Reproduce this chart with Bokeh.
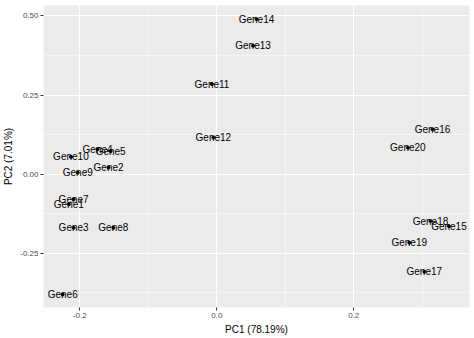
from bokeh.plotting import figure
from bokeh.models import ColumnDataSource, FixedTicker, Range1d
from bokeh.core.properties import value
from bokeh.embed import file_html
from bokeh.resources import INLINE

genes = ["Gene1", "Gene2", "Gene3", "Gene4", "Gene5", "Gene6", "Gene7", "Gene8", "Gene9", "Gene10",
         "Gene11", "Gene12", "Gene13", "Gene14", "Gene15", "Gene16", "Gene17", "Gene18", "Gene19", "Gene20"]
pc1 = [-0.216, -0.158, -0.209, -0.174, -0.155, -0.225, -0.209, -0.151, -0.203, -0.213,
       -0.007, -0.005, 0.053, 0.058, 0.339, 0.315, 0.303, 0.312, 0.281, 0.279]
pc2 = [-0.095, 0.021, -0.169, 0.079, 0.072, -0.380, -0.079, -0.169, 0.005, 0.055,
       0.285, 0.116, 0.406, 0.490, -0.164, 0.142, -0.308, -0.148, -0.216, 0.084]

x_ticks = [-0.2, 0.0, 0.2]
x_labels = ["-0.2", "0.0", "0.2"]
x_minor = [-0.1, 0.1, 0.3]
y_ticks = [-0.25, 0.0, 0.25, 0.5]
y_labels = ["-0.25", "0.00", "0.25", "0.50"]
y_minor = [-0.375, -0.125, 0.125, 0.375]

src = ColumnDataSource(dict(x=pc1, y=pc2, g=genes))

p = figure(width=474, height=338, output_backend="svg", toolbar_location=None,
           x_range=Range1d(-0.253, 0.369), y_range=Range1d(-0.421, 0.533),
           min_border_left=41, min_border_right=5, min_border_top=5, min_border_bottom=31)
p.background_fill_color = "#EBEBEB"
p.border_fill_color = "white"
p.outline_line_color = None

p.xaxis.ticker = FixedTicker(ticks=x_ticks, minor_ticks=x_minor)
p.yaxis.ticker = FixedTicker(ticks=y_ticks, minor_ticks=y_minor)
p.xaxis.major_label_overrides = {t: l for t, l in zip(x_ticks, x_labels)}
p.yaxis.major_label_overrides = {t: l for t, l in zip(y_ticks, y_labels)}

for ax in (p.xaxis, p.yaxis):
    ax.axis_line_color = None
    ax.major_tick_in = 0
    ax.major_tick_out = 3
    ax.major_tick_line_color = "#333333"
    ax.minor_tick_in = 0
    ax.minor_tick_out = 0
    ax.major_label_text_font = "Liberation Sans"
    ax.major_label_text_font_size = "8px"
    ax.major_label_text_color = "#4D4D4D"
    ax.axis_label_text_font = "Liberation Sans"
    ax.axis_label_text_font_size = "10px"
    ax.axis_label_text_font_style = "normal"
    ax.axis_label_text_color = "black"
    ax.major_label_standoff = 2
    ax.axis_label_standoff = 3

p.xaxis.axis_label = "PC1 (78.19%)"
p.yaxis.axis_label = "PC2 (7.01%)"

for gr in (p.xgrid, p.ygrid):
    gr.grid_line_color = "white"
    gr.grid_line_width = 1
    gr.minor_grid_line_color = "white"
    gr.minor_grid_line_width = 0.5

p.scatter("x", "y", source=src, size=3, color="black")
p.text("x", "y", text="g", source=src, text_align="center", text_baseline="middle",
       text_font=value("Liberation Sans"), text_font_size="10px", text_color="black")

open("out.html", "w").write(file_html(p, INLINE))
